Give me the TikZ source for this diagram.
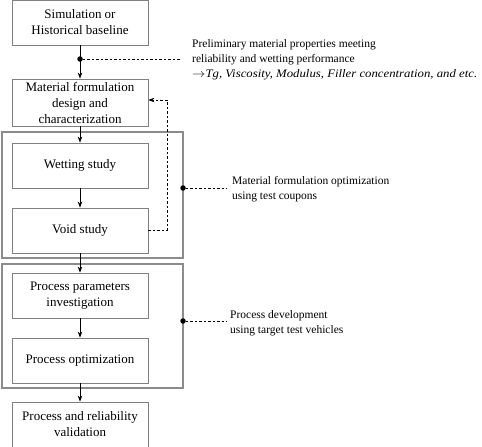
\documentclass[tikz,border=0pt]{standalone}
\usepackage{fontspec}
\setmainfont{Liberation Serif}
\usetikzlibrary{arrows.meta}
\begin{document}
\begin{tikzpicture}[x=1pt,y=-1pt,
  stepbox/.style={draw=black!50,line width=0.8pt,minimum width=136pt,align=center,inner sep=0pt,font=\fontsize{13}{16}\selectfont},
  frame/.style={draw=black!45,line width=2pt},
  arr/.style={-{Stealth[length=6pt,width=4.5pt]},line width=0.8pt},
  dsh/.style={dashed,dash pattern=on 2.5pt off 2pt,line width=0.7pt},
  dot/.style={circle,fill=black,inner sep=0pt,minimum size=5.5pt},
  note/.style={anchor=west,align=left,inner sep=0pt,font=\fontsize{11.5}{15}\selectfont}]
\useasboundingbox (0,0) rectangle (482,447);
\draw[frame] (2,132) rectangle (183,258);
\draw[frame] (2,264) rectangle (183,388);
\node[stepbox,minimum height=45pt] (b1) at (80,22.5) {Simulation or\\Historical baseline};
\node[stepbox,minimum height=47pt] (b2) at (80,102.5) {Material formulation\\design and\\characterization};
\node[stepbox,minimum height=45pt] (b3) at (80,165.5) {Wetting study};
\node[stepbox,minimum height=45pt] (b4) at (80,230.5) {Void study};
\node[stepbox,minimum height=45pt] (b5) at (80,295.5) {Process parameters\\investigation};
\node[stepbox,minimum height=45pt] (b6) at (80,360.5) {Process optimization};
\node[stepbox,minimum height=45pt] (b7) at (80,424.5) {Process and reliability\\validation};
\draw[arr] (b1) -- (b2);
\draw[arr] (b2) -- (b3);
\draw[arr] (b3) -- (b4);
\draw[arr] (b4) -- (b5);
\draw[arr] (b5) -- (b6);
\draw[arr] (b6) -- (b7);
\node[dot] (d1) at (80,59) {};
\coordinate (e1) at (180,59);
\draw[dsh] (d1) -- (e1);
\node[note] (t1) at (192,60) {Preliminary material properties meeting\\reliability and wetting performance\\\scalebox{1.11}[1]{$\rightarrow$\textit{Tg, Viscosity, Modulus, Filler concentration, and etc.}}};
\coordinate (f1) at (167,230);
\coordinate (f2) at (167,100);
\draw[dsh,-{Stealth[length=6pt,width=4.5pt]}] (b4.east |- f1) -- (f1) -- (f2) -- (b2.east |- f2);
\node[dot] (d2) at (183,188) {};
\coordinate (e2) at (227,188);
\draw[dsh] (d2) -- (e2);
\node[note] (t2) at (232,189.5) {Material formulation optimization\\using test coupons};
\node[dot] (d3) at (183,321) {};
\coordinate (e3) at (227,321);
\draw[dsh] (d3) -- (e3);
\node[note] (t3) at (230,323) {Process development\\using target test vehicles};
\end{tikzpicture}
\end{document}
